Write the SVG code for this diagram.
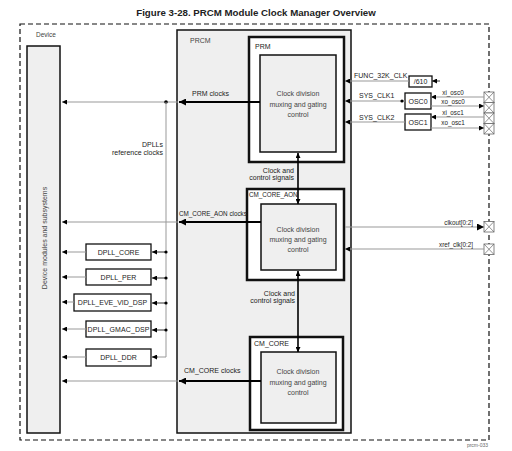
<svg xmlns="http://www.w3.org/2000/svg" width="512" height="451" viewBox="0 0 512 451">
<style>
text{font-family:"Liberation Sans",Arial,sans-serif;fill:#222}
.t{font-size:7px}
.s{font-size:6.3px}
.c{text-anchor:middle}
.r{text-anchor:end}
.thick{stroke:#000;stroke-width:2;fill:none}
.g{stroke:#999;stroke-width:1;fill:none}
.k{stroke:#333;stroke-width:1;fill:none}
.box{fill:#efefef;stroke:#111;stroke-width:1.5}
.wbox{fill:#fff;stroke:#111;stroke-width:2.5}
.small{fill:#fff;stroke:#111;stroke-width:1.3}
.pad{fill:#fff;stroke:#666;stroke-width:0.8}
</style>
<defs>
<marker id="ab" viewBox="0 0 10 10" refX="10" refY="5" markerWidth="7" markerHeight="7" markerUnits="userSpaceOnUse" orient="auto"><path d="M0,0L10,5L0,10z" fill="#000"/></marker>
<marker id="as" viewBox="0 0 10 10" refX="10" refY="5" markerWidth="5" markerHeight="5" markerUnits="userSpaceOnUse" orient="auto"><path d="M0,0L10,5L0,10z" fill="#000"/></marker>
<g id="padsym"><rect class="pad" x="0" y="0" width="10" height="10.5"/><path d="M0,0L10,10.5M10,0L0,10.5" stroke="#666" stroke-width="0.7"/></g>
</defs>
<rect width="512" height="451" fill="#fff"/>
<text x="256" y="16" class="c" style="font-size:9.7px;font-weight:bold">Figure 3-28. PRCM Module Clock Manager Overview</text>
<rect x="20" y="24" width="469" height="416" fill="none" stroke="#111" stroke-width="1.2" stroke-dasharray="5,3"/>
<text x="36" y="37" style="font-size:6.5px;fill:#444">Device</text>

<g id="device">
<rect class="box" x="27" y="46" width="33" height="387"/>
<text x="0" y="0" class="t c" transform="translate(46.5,238) rotate(-90)" style="fill:#444">Device modules and subsystems</text>
</g>

<g id="prcm">
<rect class="box" x="177" y="30" width="174" height="403" stroke-width="2"/>
<text x="190" y="43" class="t" style="fill:#444">PRCM</text>
</g>

<g id="prm">
<rect class="wbox" x="249" y="37" width="95" height="125"/>
<text x="255" y="49" class="t">PRM</text>
<rect class="box" x="260" y="55" width="76" height="97"/>
<text x="298" y="96" class="t c" style="fill:#444">Clock division</text>
<text x="298" y="107" class="t c" style="fill:#444">muxing and gating</text>
<text x="298" y="117" class="t c" style="fill:#444">control</text>
</g>

<g id="cm_core_aon">
<rect class="wbox" x="247" y="189" width="97" height="91"/>
<text x="249" y="197" class="s">CM_CORE_AON</text>
<rect class="box" x="261" y="204" width="75" height="66"/>
<text x="298" y="232" class="t c" style="fill:#444">Clock division</text>
<text x="298" y="242" class="t c" style="fill:#444">muxing and gating</text>
<text x="298" y="252" class="t c" style="fill:#444">control</text>
</g>

<g id="cm_core">
<rect class="wbox" x="250" y="337" width="93" height="93"/>
<text x="254" y="346" class="t">CM_CORE</text>
<rect class="box" x="261" y="352" width="75" height="71"/>
<text x="298" y="374" class="t c" style="fill:#444">Clock division</text>
<text x="298" y="385" class="t c" style="fill:#444">muxing and gating</text>
<text x="298" y="395" class="t c" style="fill:#444">control</text>
</g>

<g id="dpll_core"><rect class="small" x="86" y="244" width="65" height="16"/><text x="118.5" y="254.5" class="t c">DPLL_CORE</text></g>
<g id="dpll_per"><rect class="small" x="86" y="269" width="65" height="16"/><text x="118.5" y="279.5" class="t c">DPLL_PER</text></g>
<g id="dpll_eve"><rect class="small" x="74" y="294" width="77" height="17"/><text x="112.5" y="305" class="t c">DPLL_EVE_VID_DSP</text></g>
<g id="dpll_gmac"><rect class="small" x="86" y="321" width="65" height="16"/><text x="118.5" y="331.5" class="t c" textLength="62">DPLL_GMAC_DSP</text></g>
<g id="dpll_ddr"><rect class="small" x="86" y="349" width="65" height="17"/><text x="118.5" y="360" class="t c">DPLL_DDR</text></g>

<g id="div610"><rect class="small" x="409" y="76" width="23" height="11"/><text x="420.5" y="84" class="t c">/610</text></g>
<g id="osc0"><rect class="small" x="405" y="93" width="26" height="16"/><text x="418" y="104" class="t c">OSC0</text></g>
<g id="osc1"><rect class="small" x="405" y="114" width="26" height="16"/><text x="418" y="125" class="t c">OSC1</text></g>

<g id="pads">
<use href="#padsym" x="484" y="92"/>
<use href="#padsym" x="484" y="102.5"/>
<use href="#padsym" x="484" y="113"/>
<use href="#padsym" x="484" y="123.5"/>
<use href="#padsym" x="484" y="221.5"/>
<use href="#padsym" x="484" y="244"/>
</g>

<g id="connectors">
<!-- PRM clocks -->
<line class="thick" x1="260" y1="102" x2="179" y2="102" marker-end="url(#ab)"/>
<line class="g" x1="178" y1="102" x2="62" y2="102" marker-end="url(#as)"/>
<circle cx="166" cy="102" r="1.8" fill="#000"/>
<text x="192" y="96" class="t">PRM clocks</text>
<text x="163" y="147" class="t r">DPLLs</text>
<text x="163" y="155" class="t r">reference clocks</text>
<!-- DPLL reference bus -->
<polyline class="g" points="166,102 166,357 158,357"/>
<line class="k" x1="158" y1="357" x2="152" y2="357" marker-end="url(#as)"/>
<line class="k" x1="166" y1="252" x2="152" y2="252" marker-end="url(#as)"/>
<line class="k" x1="166" y1="278" x2="152" y2="278" marker-end="url(#as)"/>
<line class="k" x1="166" y1="303" x2="152" y2="303" marker-end="url(#as)"/>
<line class="k" x1="166" y1="330" x2="152" y2="330" marker-end="url(#as)"/>
<circle cx="166" cy="252" r="1.6" fill="#000"/>
<circle cx="166" cy="278" r="1.6" fill="#000"/>
<circle cx="166" cy="303" r="1.6" fill="#000"/>
<circle cx="166" cy="330" r="1.6" fill="#000"/>
<!-- DPLL outputs -->
<line class="g" x1="86" y1="252" x2="62" y2="252" marker-end="url(#as)"/>
<line class="g" x1="86" y1="277" x2="62" y2="277" marker-end="url(#as)"/>
<line class="g" x1="74" y1="302" x2="62" y2="302" marker-end="url(#as)"/>
<line class="g" x1="86" y1="329" x2="62" y2="329" marker-end="url(#as)"/>
<line class="g" x1="86" y1="357" x2="62" y2="357" marker-end="url(#as)"/>
<!-- CM_CORE_AON clocks -->
<line class="thick" x1="261" y1="222" x2="179" y2="222" marker-end="url(#ab)"/>
<line class="g" x1="178" y1="222" x2="62" y2="222" marker-end="url(#as)"/>
<text x="179" y="216" class="s">CM_CORE_AON clocks</text>
<!-- CM_CORE clocks -->
<line class="thick" x1="261" y1="381" x2="179" y2="381" marker-end="url(#ab)"/>
<line class="g" x1="178" y1="381" x2="62" y2="381" marker-end="url(#as)"/>
<text x="184" y="373" class="t">CM_CORE clocks</text>
<!-- control signals -->
<line stroke="#000" stroke-width="1.6" x1="298" y1="178" x2="298" y2="153" marker-end="url(#as)"/>
<line stroke="#000" stroke-width="1.6" x1="298" y1="178" x2="298" y2="204" marker-end="url(#as)"/>
<text x="294" y="173" class="t r">Clock and</text>
<text x="294" y="180" class="t r">control signals</text>
<line stroke="#000" stroke-width="1.6" x1="298" y1="310" x2="298" y2="271" marker-end="url(#as)"/>
<line stroke="#000" stroke-width="1.6" x1="298" y1="310" x2="298" y2="352" marker-end="url(#as)"/>
<text x="295" y="296" class="t r">Clock and</text>
<text x="295" y="303" class="t r">control signals</text>
<!-- right side inputs -->
<line class="g" x1="409" y1="81" x2="345" y2="81" marker-end="url(#as)"/>
<text x="354" y="78" class="t">FUNC_32K_CLK</text>
<line class="k" x1="440" y1="81" x2="432" y2="81" marker-end="url(#as)"/>
<line class="g" x1="405" y1="101" x2="345" y2="101" marker-end="url(#as)"/>
<circle cx="402" cy="101" r="1.6" fill="#000"/>
<text x="359" y="98" class="t">SYS_CLK1</text>
<line class="g" x1="405" y1="122" x2="345" y2="122" marker-end="url(#as)"/>
<text x="359" y="120" class="t">SYS_CLK2</text>
<line class="g" x1="484" y1="97" x2="431" y2="97" marker-end="url(#as)"/>
<text x="453" y="95" class="s c">xi_osc0</text>
<line class="g" x1="431" y1="106" x2="484" y2="106" marker-end="url(#as)"/>
<text x="453" y="104" class="s c">xo_osc0</text>
<line class="g" x1="484" y1="117" x2="431" y2="117" marker-end="url(#as)"/>
<text x="453" y="115" class="s c">xi_osc1</text>
<line class="g" x1="431" y1="128" x2="484" y2="128" marker-end="url(#as)"/>
<text x="453" y="125" class="s c">xo_osc1</text>
<line class="g" x1="345" y1="227" x2="484" y2="227" marker-end="url(#ab)"/>
<text x="473" y="225" class="s r">clkout[0:2]</text>
<line class="g" x1="484" y1="249" x2="345" y2="249" marker-end="url(#as)"/>
<text x="473" y="247" class="s r">xref_clk[0:2]</text>
</g>
<text x="488" y="447" class="r" style="font-size:5px;fill:#666">prcm-033</text>
</svg>
